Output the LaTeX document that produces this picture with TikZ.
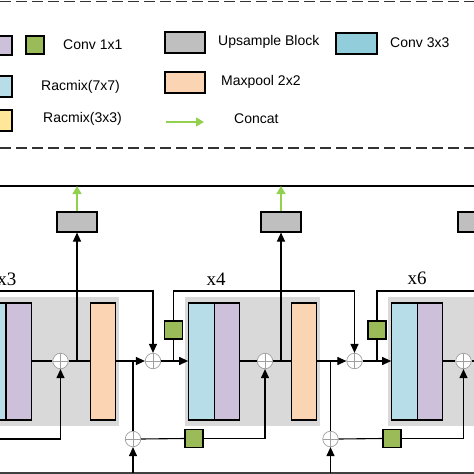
\documentclass[tikz,border=0pt]{standalone}
\usepackage{fontspec}
\setmainfont{Liberation Sans}
\newfontfamily\serifx{Liberation Serif}
\usetikzlibrary{arrows.meta}
\definecolor{cblue}{HTML}{B7DEE8}
\definecolor{cblueL}{HTML}{92CDDC}
\definecolor{cpurple}{HTML}{CCC0DA}
\definecolor{corange}{HTML}{FBD4B4}
\definecolor{cgreen}{HTML}{9BBB59}
\definecolor{cyellow}{HTML}{FFE699}
\definecolor{cgray}{HTML}{BFBFBF}
\definecolor{cbg}{HTML}{D9D9D9}
\definecolor{carrow}{HTML}{92D050}
\begin{document}
\begin{tikzpicture}[x=1pt,y=-1pt,
  tall/.style={draw=black,line width=1.2pt,inner sep=0,minimum width=25.5pt,minimum height=117pt},
  blueT/.style={tall,fill=cblue},
  purpT/.style={tall,fill=cpurple},
  orT/.style={tall,fill=corange},
  sq/.style={draw=black,line width=1.1pt,fill=cgreen,minimum size=18pt,inner sep=0},
  upbox/.style={draw=black,line width=1.1pt,fill=cgray,minimum width=40pt,minimum height=20pt,inner sep=0},
  swatch/.style={draw=black,line width=1.1pt,minimum width=40pt,minimum height=20pt,inner sep=0},
  plusnode/.style={circle,draw=gray!75,fill=white,line width=0.7pt,minimum size=15.5pt,inner sep=0,
    path picture={\draw[gray!75,line width=0.5pt] (path picture bounding box.north) -- (path picture bounding box.south)
      (path picture bounding box.west) -- (path picture bounding box.east);}},
  ln/.style={line width=1.1pt},
  conn/.style={line width=1.1pt,-{Triangle[length=9pt,width=8pt]}},
  cat/.style={carrow,line width=1.3pt,-{Triangle[length=8pt,width=9pt]}},
  dashline/.style={line width=1.2pt,black!80,dash pattern=on 11pt off 5pt},
  lbl/.style={anchor=west,inner sep=0,font=\fontsize{14}{16}\selectfont},
  xlbl/.style={inner sep=0,font=\serifx\fontsize{19}{22}\selectfont}
]
\clip (0,0) rectangle (474,474);
\useasboundingbox (0,0) rectangle (474,474);

% ---------- legend ----------
\coordinate (da) at (0,1.5); \coordinate (db) at (474,1.5);
\draw[dashline] (da) -- (db);
\coordinate (dc) at (0,148); \coordinate (dd) at (474,148);
\draw[dashline] (dc) -- (dd);

\node[swatch,fill=cpurple,minimum height=19pt] (lw1) at (-8,45.5) {};
\node[sq] (lw2) at (35,45) {};
\node[lbl] (lt1) at (63,45) {Conv 1x1};
\node[swatch,fill=cgray,minimum height=21pt] (lw3) at (185,42.5) {};
\node[lbl] (lt2) at (218,42) {Upsample Block};
\node[swatch,fill=cblueL,minimum width=41pt,minimum height=21pt] (lw4) at (356.5,43.5) {};
\node[lbl] (lt3) at (390,43) {Conv 3x3};

\node[swatch,fill=cblue,minimum height=21pt] (lw5) at (-8,86.5) {};
\node[lbl] (lt4) at (41,87) {Racmix(7x7)};
\node[swatch,fill=corange,minimum height=21pt] (lw6) at (185,82.5) {};
\node[lbl] (lt5) at (221,82) {Maxpool 2x2};

\node[swatch,fill=cyellow,minimum height=21pt] (lw7) at (-8,120.5) {};
\node[lbl] (lt6) at (43,119) {Racmix(3x3)};
\coordinate (ca) at (166,122); \coordinate (cb) at (204,122);
\draw[cat] (ca) -- (cb);
\node[lbl] (lt7) at (234,119) {Concat};

% ---------- main diagram ----------
\coordinate (tl) at (0,186); \coordinate (tr) at (474,186);
\draw[line width=1.2pt] (tl) -- (tr);
\coordinate (bl) at (0,473); \coordinate (br) at (474,473);
\draw[line width=3pt,black!75] (bl) -- (br);

% backgrounds
\fill[cbg] (-30,297) rectangle (119,426);
\fill[cbg] (185,297) rectangle (320,426);
\fill[cbg] (388,297) rectangle (490,426);

% labels
\node[xlbl] (x3) at (7,279) {x3};
\node[xlbl] (x4) at (216,279) {x4};
\node[xlbl] (x6) at (417,278) {x6};

% upsample boxes
\node[upbox] (up1) at (77,222) {};
\node[upbox] (up2) at (281,222) {};
\node[upbox] (up3) at (478,222) {};
\draw[cat] (up1.north) -- (up1.north |- tl);
\draw[cat] (up2.north) -- (up2.north |- tl);

% stage 1
\node[blueT] (b1) at (-7,361.5) {};
\node[purpT] (p1) at (19,361.5) {};
\node[plusnode] (c1) at (60.5,361) {};
\node[orT] (o1) at (103,361.5) {};
\draw[ln] (p1.east |- c1) -- (c1.west);
\draw[ln] (c1.east) -- (o1.west |- c1);
\coordinate (j1) at (77,361);
\draw[conn] (j1) -- (up1.south);
\coordinate (l0) at (-5,439);
\draw[conn] (l0) -| (c1.south);
\coordinate (s0) at (-5,291);

% stage 2 junctions
\node[plusnode] (c2) at (153,361) {};
\draw[conn] (s0) -| (c2.north);
\draw[conn] (o1.east |- c2) -- (c2.west);
\coordinate (j2) at (133,361);
\node[plusnode] (d1) at (133,439) {};
\coordinate (bot1) at (133,473);
\draw[conn] (bot1) -- (d1.south);
\draw[ln] (d1.north) -- (j2);
\node[sq] (g1) at (194,438.5) {};
\draw[ln] (d1.east) -- (g1.west);

% stage 2
\node[blueT] (b2) at (201.5,361.5) {};
\node[purpT] (p2) at (227,361.5) {};
\node[plusnode] (c3) at (265,361) {};
\node[orT] (o2) at (304,361.5) {};
\draw[conn] (c2.east) -- (b2.west |- c2);
\draw[conn] (g1.east) -| (c3.south);
\draw[ln] (p2.east |- c3) -- (c3.west);
\draw[ln] (c3.east) -- (o2.west |- c3);
\coordinate (j4) at (281,361);
\draw[conn] (j4) -- (up2.south);
\coordinate (j3) at (173.5,361);
\node[sq] (gs2) at (173.5,330) {};
\coordinate (k2) at (173.5,291);
\draw[ln] (j3) -- (gs2.south);

\node[plusnode] (c4) at (354.5,361) {};
\draw[conn] (gs2.north) -- (k2) -| (c4.north);
\draw[conn] (o2.east |- c4) -- (c4.west);
\coordinate (j5) at (330.5,361);
\node[plusnode] (d2) at (330.5,439) {};
\coordinate (bot2) at (330.5,473);
\draw[conn] (bot2) -- (d2.south);
\draw[ln] (d2.north) -- (j5);
\node[sq] (g2) at (392,438.5) {};
\draw[ln] (d2.east) -- (g2.west);

% stage 3
\node[blueT] (b3) at (404.5,361.5) {};
\node[purpT] (p3) at (430,361.5) {};
\node[plusnode] (c5) at (463.5,361) {};
\draw[conn] (c4.east) -- (b3.west |- c4);
\draw[conn] (g2.east) -| (c5.south);
\draw[ln] (p3.east |- c5) -- (c5.west);
\coordinate (e5) at (480,361);
\draw[ln] (c5.east) -- (e5);
\coordinate (j6) at (377,361);
\node[sq] (gs3) at (377,330) {};
\coordinate (k3) at (377,291);
\coordinate (e3) at (480,291);
\draw[ln] (j6) -- (gs3.south);
\draw[ln] (gs3.north) -- (k3) -- (e3);
\end{tikzpicture}
\end{document}
